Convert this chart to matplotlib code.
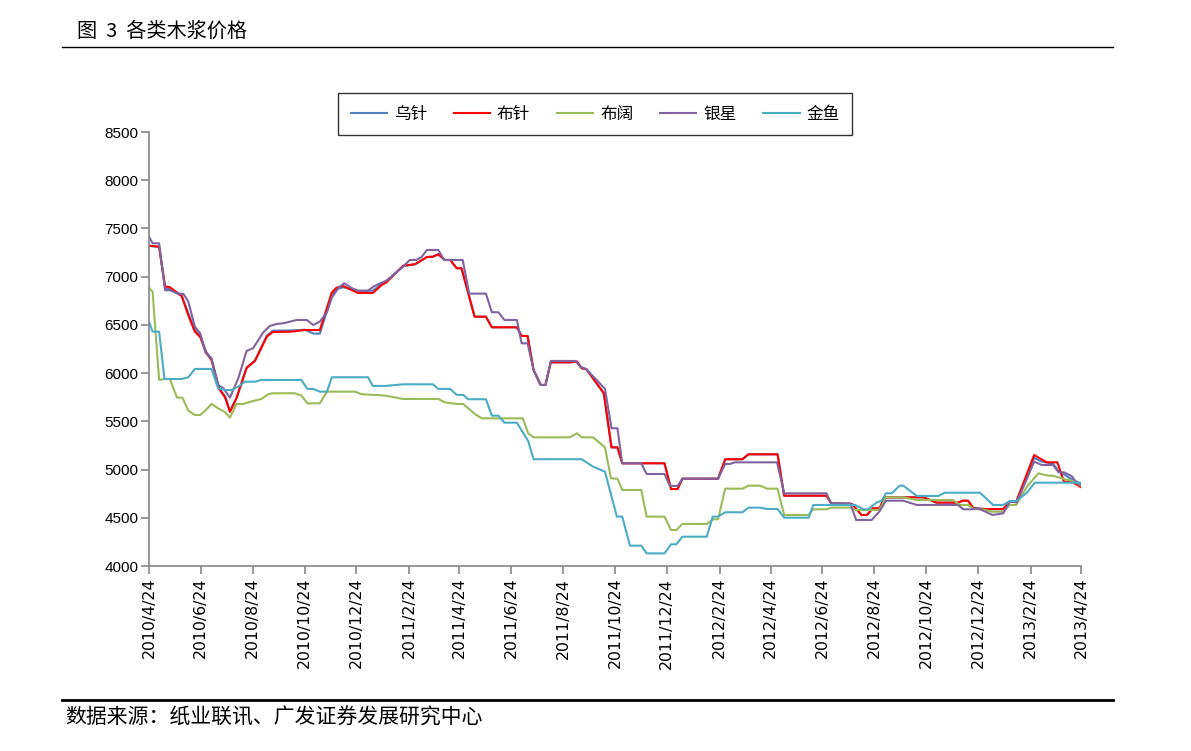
import numpy as np
import pandas as pd
import matplotlib
matplotlib.use('Agg')
import matplotlib.pyplot as plt
from matplotlib.lines import Line2D

START = pd.Timestamp('2010-04-24')
END = pd.Timestamp('2013-04-24')

# weeks since 2010-04-24 and price (yuan/ton)
wuzhen_weeks = [0, 1.7, 2.7, 3.5, 5.5, 6.6, 7.7, 8.6, 9.6, 10.5, 11.8, 12.8, 13.6, 14.7, 16.4,
                17.8, 19.8, 20.8, 24.0, 26.2, 27.6, 28.7, 30.7, 31.5, 32.6, 35.1, 37.6, 39.1,
                39.9, 42.7, 44.7, 46.7, 47.7, 48.6, 49.7, 50.6, 51.7, 52.5, 54.7, 56.6, 57.6,
                61.8, 62.6, 63.6, 64.6, 65.8, 66.6, 67.5, 70.7, 71.9, 72.7, 73.5, 76.4, 77.7,
                78.7, 79.5, 86.6, 87.7, 88.8, 89.6, 95.6, 96.8, 99.7, 100.7, 105.6, 106.7,
                113.8, 114.6, 118.1, 119.7, 120.6, 121.6, 122.7, 123.6, 130.1, 132.3, 135.9,
                136.7, 137.6, 138.5, 140.7, 143.5, 144.6, 145.7, 148.7, 150.0, 151.9, 152.8,
                153.7, 155.0, 156.6]
wuzhen_price = [7320, 7310, 6880, 6870, 6800, 6620, 6450, 6390, 6220, 6140, 5840, 5760, 5610,
                5740, 6060, 6130, 6390, 6440, 6442, 6450, 6410, 6410, 6800, 6870, 6890, 6855,
                6855, 6925, 6955, 7110, 7129, 7204, 7207, 7232, 7173, 7173, 7087, 7087, 6585,
                6585, 6475, 6475, 6385, 6385, 6033, 5877, 5877, 6112, 6112, 6120, 6050, 6040,
                5791, 5230, 5230, 5065, 5065, 4798, 4798, 4905, 4905, 5107, 5107, 5158, 5158,
                4729, 4729, 4650, 4643, 4529, 4529, 4598, 4598, 4712, 4712, 4657, 4657, 4677,
                4677, 4598, 4590, 4590, 4667, 4667, 5120, 5082, 5060, 4980, 4950, 4900, 4850]

buzhen_weeks = [0, 1.7, 2.7, 3.5, 5.5, 6.6, 7.7, 8.6, 9.6, 10.5, 11.8, 12.8, 13.6, 14.7, 16.4,
                17.8, 19.8, 20.8, 24.0, 26.2, 28.7, 30.7, 31.5, 32.6, 35.1, 37.6, 39.1, 39.9,
                42.7, 44.7, 46.7, 47.7, 48.6, 49.7, 50.6, 51.7, 52.5, 54.7, 56.6, 57.6, 61.8,
                62.6, 63.6, 64.6, 65.8, 66.6, 67.5, 70.7, 71.9, 72.7, 73.5, 76.4, 77.7, 78.7,
                79.5, 86.6, 87.7, 88.8, 89.6, 95.6, 96.8, 99.7, 100.7, 105.6, 106.7, 113.8,
                114.6, 118.1, 119.7, 120.6, 121.6, 122.7, 123.6, 130.1, 132.3, 135.9, 136.7,
                137.6, 138.5, 140.7, 143.5, 144.6, 145.7, 148.7, 150.8, 152.6, 153.7, 155.0,
                156.6]
buzhen_price = [7320, 7310, 6900, 6890, 6800, 6600, 6430, 6375, 6210, 6136, 5836, 5745, 5597,
                5742, 6053, 6126, 6378, 6426, 6430, 6447, 6447, 6834, 6886, 6904, 6831, 6831,
                6914, 6942, 7114, 7129, 7204, 7207, 7232, 7173, 7173, 7087, 7087, 6585, 6585,
                6475, 6475, 6385, 6385, 6033, 5877, 5877, 6112, 6112, 6120, 6050, 6040, 5791,
                5230, 5230, 5065, 5065, 4798, 4798, 4905, 4905, 5107, 5107, 5158, 5158, 4729,
                4729, 4650, 4643, 4529, 4529, 4598, 4598, 4712, 4712, 4657, 4657, 4677, 4677,
                4598, 4590, 4590, 4667, 4667, 5151, 5075, 5075, 4874, 4874, 4816]

bukuo_weeks = [0, 0.6, 1.7, 2.7, 3.5, 4.7, 5.6, 6.6, 7.7, 8.6, 9.5, 10.5, 11.6, 12.8, 13.6,
               14.7, 15.8, 17.5, 18.9, 20.0, 20.8, 24.5, 25.6, 26.6, 28.7, 29.9, 34.6, 35.7,
               39.7, 42.7, 48.6, 49.7, 51.7, 52.8, 54.8, 55.9, 62.8, 63.7, 64.6, 70.7, 71.9,
               72.7, 74.6, 76.6, 77.6, 78.7, 79.5, 82.7, 83.6, 86.6, 87.7, 88.6, 89.6, 93.7,
               94.8, 95.6, 96.8, 99.7, 100.7, 102.7, 103.8, 105.6, 106.7, 110.8, 111.6, 113.8,
               114.7, 117.8, 118.7, 122.7, 123.8, 126.7, 129.0, 135.1, 136.2, 137.6, 138.5,
               140.2, 141.6, 143.5, 144.6, 145.7, 147.5, 149.4, 150.8, 151.9, 153.9, 155.3,
               156.6]
bukuo_price = [6886, 6845, 5929, 5939, 5939, 5746, 5746, 5611, 5566, 5566, 5614, 5680, 5635,
               5594, 5538, 5680, 5680, 5711, 5732, 5781, 5791, 5791, 5767, 5687, 5687, 5808,
               5808, 5781, 5767, 5732, 5732, 5697, 5680, 5680, 5573, 5531, 5531, 5376, 5334,
               5334, 5376, 5334, 5334, 5231, 4909, 4905, 4788, 4788, 4512, 4512, 4373, 4373,
               4436, 4436, 4484, 4484, 4802, 4802, 4833, 4833, 4802, 4802, 4529, 4529, 4588,
               4588, 4605, 4605, 4581, 4581, 4712, 4712, 4684, 4684, 4633, 4633, 4591, 4585,
               4563, 4563, 4633, 4633, 4823, 4961, 4940, 4935, 4899, 4881, 4830]

yinxing_weeks = [0, 0.6, 1.7, 2.7, 3.5, 4.7, 5.8, 6.6, 7.7, 8.6, 9.5, 10.5, 11.6, 12.5, 13.6,
                 15.0, 16.4, 17.5, 19.2, 20.3, 21.5, 22.6, 23.7, 24.8, 26.5, 27.6, 28.7, 29.9,
                 30.7, 31.8, 32.8, 34.1, 35.2, 36.7, 37.9, 39.1, 39.9, 42.7, 43.8, 44.9, 45.8,
                 46.7, 48.6, 49.6, 52.7, 53.8, 56.6, 57.6, 58.7, 59.7, 61.8, 62.6, 63.6, 64.6,
                 65.8, 66.6, 67.5, 71.6, 72.5, 73.5, 76.6, 77.7, 78.7, 79.5, 82.7, 83.6, 86.6,
                 87.5, 88.8, 89.6, 95.6, 96.8, 97.6, 98.4, 105.5, 106.7, 113.8, 114.6, 117.8,
                 118.8, 121.4, 122.7, 123.8, 126.7, 129.0, 135.9, 136.8, 138.2, 139.3, 141.7,
                 143.5, 144.6, 145.8, 148.7, 150.0, 151.9, 152.8, 153.7, 155.0, 155.9, 156.6]
yinxing_price = [7415, 7346, 7346, 6859, 6859, 6828, 6820, 6741, 6482, 6413, 6212, 6154, 5877,
                 5843, 5746, 5946, 6230, 6258, 6423, 6489, 6510, 6517, 6534, 6551, 6551, 6499,
                 6534, 6631, 6782, 6880, 6932, 6880, 6852, 6852, 6904, 6938, 6960, 7104, 7173,
                 7173, 7204, 7277, 7277, 7173, 7173, 6824, 6824, 6631, 6631, 6551, 6551, 6309,
                 6309, 6033, 5877, 5877, 6126, 6126, 6067, 6040, 5836, 5428, 5428, 5065, 5065,
                 4954, 4954, 4830, 4830, 4905, 4905, 5058, 5058, 5075, 5075, 4754, 4754, 4650,
                 4650, 4477, 4477, 4564, 4677, 4677, 4633, 4633, 4588, 4588, 4598, 4529, 4546,
                 4667, 4660, 5082, 5047, 5047, 4971, 4971, 4933, 4858, 4840]

jinyu_weeks = [0, 0.6, 1.7, 2.6, 5.5, 6.6, 7.7, 10.5, 11.6, 12.8, 13.9, 15.0, 16.1, 17.8, 18.9,
               25.6, 26.6, 27.6, 28.7, 29.9, 30.7, 36.8, 37.6, 39.7, 42.7, 47.7, 48.6, 50.6,
               51.7, 52.8, 53.6, 56.6, 57.6, 58.7, 59.7, 61.8, 63.7, 64.6, 72.7, 74.6, 76.6,
               78.6, 79.5, 80.8, 82.7, 83.6, 86.6, 87.7, 88.6, 89.6, 93.7, 94.7, 95.6, 96.8,
               99.7, 100.7, 102.7, 103.8, 105.6, 106.7, 110.8, 111.6, 118.6, 120.0, 120.8,
               122.2, 123.1, 123.8, 124.8, 126.1, 126.7, 129.0, 132.6, 133.7, 139.6, 141.8,
               143.5, 144.6, 145.7, 147.5, 148.8, 156.6]
jinyu_price = [6534, 6430, 6430, 5939, 5939, 5957, 6043, 6043, 5843, 5825, 5825, 5860, 5911,
               5911, 5929, 5929, 5836, 5836, 5808, 5808, 5957, 5957, 5867, 5867, 5884, 5884,
               5836, 5836, 5774, 5774, 5729, 5729, 5559, 5559, 5486, 5486, 5296, 5107, 5107,
               5030, 4978, 4512, 4512, 4211, 4211, 4131, 4131, 4225, 4225, 4304, 4304, 4512,
               4512, 4557, 4557, 4605, 4605, 4591, 4591, 4501, 4501, 4633, 4633, 4588, 4588,
               4657, 4677, 4754, 4754, 4833, 4833, 4726, 4726, 4760, 4760, 4633, 4633, 4674,
               4674, 4760, 4864, 4864]

series = [
    ('乌针', wuzhen_weeks, wuzhen_price, '#4F81BD'),
    ('布针', buzhen_weeks, buzhen_price, '#FF0000'),
    ('布阔', bukuo_weeks, bukuo_price, '#9BBB59'),
    ('银星', yinxing_weeks, yinxing_price, '#8064A2'),
    ('金鱼', jinyu_weeks, jinyu_price, '#4BACC6'),
]

tick_labels = ['2010/4/24', '2010/6/24', '2010/8/24', '2010/10/24', '2010/12/24',
               '2011/2/24', '2011/4/24', '2011/6/24', '2011/8/24', '2011/10/24',
               '2011/12/24', '2012/2/24', '2012/4/24', '2012/6/24', '2012/8/24',
               '2012/10/24', '2012/12/24', '2013/2/24', '2013/4/24']
y_ticks = [4000, 4500, 5000, 5500, 6000, 6500, 7000, 7500, 8000, 8500]


def to_dates(weeks):
    return START + pd.to_timedelta(np.array(weeks) * 7, unit='D')


def main():
    plt.rcParams['font.family'] = ['Noto Sans CJK SC', 'DejaVu Sans']
    W, H = 1191, 751
    fig = plt.figure(figsize=(W / 100, H / 100), dpi=100)
    ax = fig.add_axes([149 / W, 1 - 566 / H, (1081 - 149) / W, (566 - 132) / H])

    for name, weeks, price, color in series:
        ax.plot(to_dates(weeks), price, color=color, lw=1.5, label=name,
                solid_joinstyle='round')

    ax.set_xlim(START, END)
    ax.set_ylim(4000, 8500)
    ax.set_yticks(y_ticks)
    ax.set_yticklabels([str(v) for v in y_ticks], fontfamily='Liberation Sans', fontsize=11)
    ticks = pd.to_datetime(tick_labels, format='%Y/%m/%d')
    ax.set_xticks(ticks)
    ax.set_xticklabels(tick_labels, rotation=90, fontfamily='DejaVu Sans', fontsize=11.3)

    for side in ['top', 'right']:
        ax.spines[side].set_visible(False)
    for side in ['left', 'bottom']:
        ax.spines[side].set_color('#868686')
        ax.spines[side].set_linewidth(1.2)
    ax.tick_params(axis='both', direction='out', length=5.5, width=1.2, color='#868686',
                   labelcolor='black')
    ax.tick_params(axis='y', pad=2)
    ax.tick_params(axis='x', pad=3)

    handles, labels = ax.get_legend_handles_labels()
    leg = fig.legend(handles, labels, loc='center', ncol=5, mode='expand',
                     bbox_to_anchor=(338 / W, 1 - 134 / H, 514 / W, 40 / H),
                     borderaxespad=0, fontsize=12, frameon=True, fancybox=False,
                     edgecolor='black', handlelength=2.2, handletextpad=0.4,
                     borderpad=0.75)
    leg.get_frame().set_linewidth(1.0)

    fig.text(77 / W, 1 - 31 / H, '图  3  各类木浆价格', fontsize=14.5, va='center', ha='left')
    fig.add_artist(Line2D([62 / W, 1113 / W], [1 - 47 / H] * 2, color='black', lw=1.0))
    fig.add_artist(Line2D([62 / W, 1113 / W], [1 - 700 / H] * 2, color='black', lw=2.0))
    fig.text(65 / W, 1 - 718 / H, '数据来源：纸业联讯、广发证券发展研究中心', fontsize=15,
             va='center', ha='left')

    fig.savefig('out.png', dpi=100)


if __name__ == '__main__':
    main()
